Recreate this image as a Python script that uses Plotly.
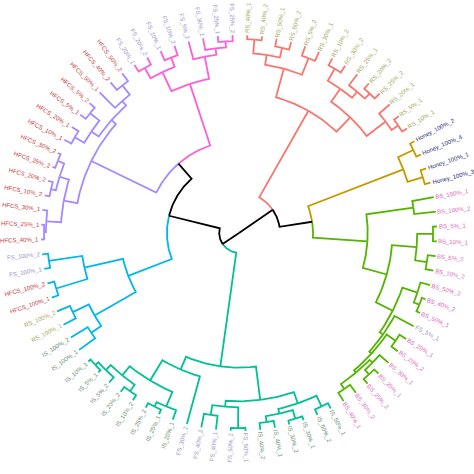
import math
import plotly.graph_objects as go

# ---------------- data ----------------
leaf_labels = [
    "RS_40%_1", "RS_40%_2", "RS_50%_1", "RS_50%_2", "RS_5%_2", "RS_30%_1", "RS_10%_2",
    "RS_30%_2", "RS_25%_1", "RS_20%_2", "RS_25%_2", "RS_20%_1", "RS_5%_1", "RS_10%_1",
    "Honey_100%_2", "Honey_100%_4", "Honey_100%_1", "Honey_100%_3",
    "BS_100%_1", "BS_100%_2", "BS_5%_1", "BS_10%_1", "BS_5%_2", "BS_10%_2", "BS_50%_2",
    "BS_40%_2", "BS_50%_1", "FS_5%_1", "BS_20%_1", "BS_20%_2", "BS_30%_1", "BS_25%_1",
    "BS_25%_2", "BS_30%_2", "BS_40%_1",
    "IS_50%_1", "IS_50%_2", "IS_30%_1", "IS_30%_2", "IS_40%_1", "IS_40%_2", "FS_50%_1",
    "FS_50%_2", "FS_40%_1", "FS_40%_2", "FS_30%_2", "IS_20%_1", "IS_25%_1", "IS_25%_2",
    "IS_10%_2", "IS_20%_2", "IS_5%_2", "IS_5%_1", "IS_10%_1",
    "IS_100%_1", "IS_100%_2", "RS_100%_1", "RS_100%_2", "HFCS_100%_1", "HFCS_100%_2",
    "FS_100%_1", "FS_100%_2",
    "HFCS_40%_1", "HFCS_25%_1", "HFCS_30%_1", "HFCS_10%_2", "HFCS_20%_2", "HFCS_25%_2",
    "HFCS_30%_2", "HFCS_10%_1", "HFCS_20%_1", "HFCS_5%_1", "HFCS_5%_2", "HFCS_50%_1",
    "HFCS_40%_2", "HFCS_50%_2",
    "FS_20%_1", "FS_20%_2", "FS_10%_1", "FS_10%_2", "FS_5%_2", "FS_30%_1", "FS_25%_1",
    "FS_25%_2",
]

# merges: (node, child_a, child_b, height)  (root height = 100)
merges_red = [
    ("r1", "RS_40%_1", "RS_40%_2", 2.0), ("r2", "RS_50%_1", "RS_50%_2", 4.0),
    ("r3", "r1", "r2", 9.0), ("r4", "RS_5%_2", "RS_30%_1", 5.0), ("r5", "r3", "r4", 14.0),
    ("r6", "RS_10%_2", "RS_30%_2", 4.0), ("r7", "RS_20%_2", "RS_25%_2", 3.5),
    ("r8", "RS_25%_1", "r7", 7.0), ("r9", "r6", "r8", 11.0),
    ("r10", "RS_5%_1", "RS_10%_1", 3.0), ("r11", "RS_20%_1", "r10", 7.0),
    ("r12", "r9", "r11", 19.0), ("red", "r5", "r12", 29.0),
]
merges_gold = [
    ("g1", "Honey_100%_2", "Honey_100%_4", 2.5), ("g2", "Honey_100%_1", "Honey_100%_3", 3.0),
    ("gold", "g1", "g2", 11.0),
]
merges_green = [
    ("gr1", "BS_100%_1", "BS_100%_2", 11.0), ("gr2", "BS_5%_1", "BS_10%_1", 2.0),
    ("gr3", "BS_5%_2", "BS_10%_2", 4.0), ("gr4", "gr2", "gr3", 10.0),
    ("gr5", "BS_40%_2", "BS_50%_1", 2.0), ("gr6", "BS_50%_2", "gr5", 5.0),
    ("gr7", "BS_25%_1", "BS_25%_2", 3.0), ("gr8", "BS_30%_1", "gr7", 6.0),
    ("gr9", "BS_30%_2", "BS_40%_1", 5.0), ("gr10", "gr8", "gr9", 8.0),
    ("gr11", "BS_20%_1", "BS_20%_2", 4.0), ("gr12", "gr11", "gr10", 9.5),
    ("gr13", "FS_5%_1", "gr12", 11.0), ("gr14", "gr6", "gr13", 13.0),
    ("gr15", "gr4", "gr14", 22.5), ("green", "gr1", "gr15", 35.0),
]
merges_teal = [
    ("t1", "IS_50%_1", "IS_50%_2", 3.0), ("t2", "IS_30%_1", "IS_30%_2", 2.0),
    ("t3", "IS_40%_1", "IS_40%_2", 3.5), ("t4", "t2", "t3", 6.5), ("t5", "t1", "t4", 9.0),
    ("t6", "FS_50%_1", "FS_50%_2", 1.5), ("t7", "FS_40%_1", "FS_40%_2", 7.0),
    ("t8", "t6", "t7", 12.0), ("t9", "t5", "t8", 15.0),
    ("t10", "IS_25%_1", "IS_25%_2", 2.5), ("t11", "IS_20%_1", "t10", 5.0),
    ("t12", "IS_10%_2", "IS_20%_2", 3.0), ("t13", "IS_5%_1", "IS_10%_1", 1.5),
    ("t14", "IS_5%_2", "t13", 3.5), ("t15", "t12", "t14", 7.0), ("t16", "t11", "t15", 13.0),
    ("t17", "FS_30%_2", "t16", 25.0), ("teal", "t9", "t17", 32.0),
]
merges_cyan = [
    ("c1", "IS_100%_1", "IS_100%_2", 10.0), ("c2", "RS_100%_1", "RS_100%_2", 7.0),
    ("c3", "c1", "c2", 16.0), ("c4", "HFCS_100%_1", "HFCS_100%_2", 3.5),
    ("c5", "FS_100%_1", "FS_100%_2", 3.0), ("c6", "c4", "c5", 20.0),
    ("cyan", "c3", "c6", 40.0),
]
merges_purple = [
    ("p1", "HFCS_40%_1", "HFCS_25%_1", 1.5), ("p2", "HFCS_30%_1", "p1", 2.5),
    ("p3", "HFCS_10%_2", "HFCS_20%_2", 2.5), ("p4", "HFCS_25%_2", "HFCS_30%_2", 1.5),
    ("p5", "p3", "p4", 5.0), ("p6", "p2", "p5", 10.0),
    ("p7", "HFCS_10%_1", "HFCS_20%_1", 4.0), ("p8", "HFCS_5%_1", "HFCS_5%_2", 3.5),
    ("p9", "p7", "p8", 9.5), ("p10", "HFCS_40%_2", "HFCS_50%_2", 5.0),
    ("p11", "HFCS_50%_1", "p10", 11.0), ("p12", "p9", "p11", 14.0),
    ("purple", "p6", "p12", 17.0),
]
merges_magenta = [
    ("m1", "FS_20%_1", "FS_20%_2", 4.0), ("m2", "FS_10%_1", "FS_10%_2", 5.0),
    ("m3", "m1", "m2", 10.0), ("m4", "FS_25%_1", "FS_25%_2", 3.0),
    ("m5", "FS_30%_1", "m4", 6.0), ("m6", "FS_5%_2", "m5", 9.3),
    ("magenta", "m3", "m6", 20.7),
]
merges_top = [
    ("Y", "gold", "green", 62.6), ("X", "red", "Y", 79.3),
    ("A", "purple", "magenta", 53.5), ("P", "cyan", "A", 63.6),
    ("Q", "teal", "P", 90.0), ("root", "X", "Q", 100.0),
]

cluster_colors = {
    "red": "#F8766D", "gold": "#C49A00", "green": "#53B400", "teal": "#00C094",
    "cyan": "#00B6EB", "purple": "#A58AFF", "magenta": "#FB61D7",
}
label_colors = {
    "RS": "#9FA65A", "Honey": "#28287A", "BS": "#D86AB6", "FS": "#9A94C8",
    "IS": "#6C8D74", "HFCS": "#C8373A",
}

merges = (merges_red + merges_gold + merges_green + merges_teal + merges_cyan
          + merges_purple + merges_magenta + merges_top)

# ---------------- layout ----------------
W = 474
CX, CY = 239.0, 233.0      # centre in pixels from top-left
R = 198.0                   # radius of leaf tips
H = 100.0
START = 272.4               # screen angle of first leaf (clockwise from +x)
N = len(leaf_labels)
STEP = 360.0 / N

pos = {}
for i, lab in enumerate(leaf_labels):
    pos[lab] = (START + i * STEP, R)
kids = {}
for name, a, b, h in merges:
    pos[name] = ((pos[a][0] + pos[b][0]) / 2.0, R * (1 - h / H))
    kids[name] = (a, b)

color_of = {}


def paint(node, col):
    color_of[node] = col
    for k in kids.get(node, ()):
        paint(k, col)


for cname, col in cluster_colors.items():
    paint(cname, col)


def xy(theta, r):
    t = math.radians(theta)
    return r * math.cos(t), -r * math.sin(t)


segs = {}
for name, a, b, h in merges:
    pa, pr = pos[name]
    for ch in (a, b):
        ca, cr = pos[ch]
        col = color_of.get(ch, "#000000")
        xs, ys = segs.setdefault(col, ([], []))
        n = max(2, int(abs(ca - pa) / 0.8) + 2)
        for k in range(n):
            th = pa + (ca - pa) * k / (n - 1)
            x, y = xy(th, pr)
            xs.append(x)
            ys.append(y)
        x, y = xy(ca, cr)
        xs.append(x)
        ys.append(y)
        xs.append(None)
        ys.append(None)

fig = go.Figure()
for col, (xs, ys) in segs.items():
    fig.add_trace(go.Scatter(x=xs, y=ys, mode="lines",
                             line=dict(color=col, width=1.8),
                             hoverinfo="skip", showlegend=False))

# approximate Arial advance widths (em) for centring rotated labels
cw = {"H": 0.722, "F": 0.611, "C": 0.722, "S": 0.667, "R": 0.722, "B": 0.667,
      "I": 0.278, "_": 0.556, "%": 0.889, "o": 0.556, "n": 0.556, "e": 0.556, "y": 0.5}
FS = 6.0
GAP = 2.0
for lab in leaf_labels:
    th, _ = pos[lab]
    th = th % 360
    w = sum(cw.get(c, 0.556) for c in lab) * FS
    cx_, cy_ = xy(th, R + GAP + w / 2)
    if 90 < th < 270:
        ang = th - 180
    else:
        ang = th if th < 90 else th - 360
    grp = lab.split("_")[0]
    fig.add_annotation(x=cx_, y=cy_, xref="x", yref="y", text=lab, showarrow=False,
                       textangle=ang, xanchor="center", yanchor="middle",
                       font=dict(family="Liberation Sans, Arial", size=FS,
                                 color=label_colors[grp]))

fig.update_layout(
    width=W, height=W, margin=dict(l=0, r=0, t=0, b=0),
    paper_bgcolor="white", plot_bgcolor="white",
    xaxis=dict(range=[-CX, W - CX], visible=False, fixedrange=True),
    yaxis=dict(range=[-(W - CY), CY], visible=False, fixedrange=True),
)
fig.write_html("out.html")
